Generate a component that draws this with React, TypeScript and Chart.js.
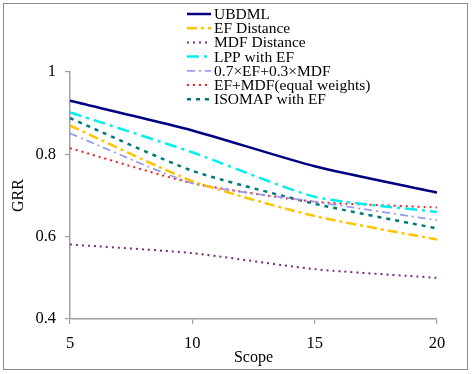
import React, { useEffect, useRef } from "react";
import { Chart, registerables } from "chart.js";

Chart.register(...registerables);

const scopes = [5, 10, 15, 20];
const seriesNames = [
  "UBDML",
  "EF Distance",
  "MDF Distance",
  "LPP with EF",
  "0.7×EF+0.3×MDF",
  "EF+MDF(equal weights)",
  "ISOMAP with EF",
];
const ubdml = [0.93, 0.858, 0.771, 0.707];
const efDistance = [0.87, 0.735, 0.65, 0.593];
const mdfDistance = [0.581, 0.56, 0.521, 0.5];
const lppEf = [0.902, 0.805, 0.697, 0.66];
const weighted = [0.851, 0.73, 0.685, 0.64];
const equalWeights = [0.815, 0.73, 0.685, 0.671];
const isomapEf = [0.888, 0.76, 0.68, 0.62];
const yTicks = [0.4, 0.6, 0.8, 1];

const seriesValues = [ubdml, efDistance, mdfDistance, lppEf, weighted, equalWeights, isomapEf];
const seriesColors = ["#000080", "#FFC400", "#7A2A7A", "#00F0F0", "#9A9AF2", "#F02020", "#007878"];
const seriesDash: number[][] = [[], [10, 4, 3, 4], [2, 4], [12, 5, 3, 5], [8, 4, 2, 4], [2, 4], [4, 5]];
const seriesWidth = [2.5, 2.5, 2, 2.5, 1.8, 2, 2.5];

const FONT = "'Liberation Serif', 'Times New Roman', serif";

const legendPlugin = {
  id: "innerLegend",
  afterDraw(chart: any) {
    const ctx = chart.ctx;
    ctx.save();
    ctx.font = `15.5px ${FONT}`;
    ctx.textBaseline = "middle";
    ctx.fillStyle = "#000";
    chart.data.datasets.forEach((ds: any, i: number) => {
      const y = 14 + i * 14.2;
      ctx.strokeStyle = ds.borderColor;
      ctx.lineWidth = ds.borderWidth;
      ctx.setLineDash(ds.borderDash || []);
      ctx.beginPath();
      ctx.moveTo(187, y);
      ctx.lineTo(211, y);
      ctx.stroke();
      ctx.setLineDash([]);
      ctx.fillText(ds.label, 214, y + 1);
    });
    ctx.restore();
  },
};

export default function App() {
  const canvasRef = useRef<HTMLCanvasElement | null>(null);

  useEffect(() => {
    document.body.style.margin = "0";
    const canvas = canvasRef.current;
    if (!canvas) return;
    const chart = new Chart(canvas, {
      type: "line",
      data: {
        datasets: seriesNames.map((name, i) => ({
          label: name,
          data: scopes.map((s, j) => ({ x: s, y: seriesValues[i][j] })),
          borderColor: seriesColors[i],
          backgroundColor: seriesColors[i],
          borderDash: seriesDash[i],
          borderWidth: seriesWidth[i],
          pointRadius: 0,
          tension: 0.2,
          fill: false,
        })),
      },
      options: {
        responsive: false,
        animation: false,
        layout: { padding: { left: 0, top: 72, right: 37, bottom: 0 } },
        plugins: { legend: { display: false }, tooltip: { enabled: false } },
        scales: {
          x: {
            type: "linear",
            min: 5,
            max: 20,
            afterFit: (scale: any) => {
              scale.height = 55;
            },
            ticks: {
              stepSize: 5,
              color: "#000",
              padding: 10,
              maxRotation: 0,
              font: { family: FONT, size: 16.5 },
            },
            grid: {
              display: true,
              drawOnChartArea: false,
              drawTicks: true,
              tickLength: 5,
              color: "#a0a0a0",
              lineWidth: 1.2,
            },
            border: { display: true, color: "#a0a0a0", width: 1.5 },
            title: {
              display: true,
              text: "Scope",
              color: "#000",
              font: { family: FONT, size: 16 },
              padding: { top: 0, bottom: 7 },
            },
          },
          y: {
            min: 0.4,
            max: 1,
            afterFit: (scale: any) => {
              scale.width = 70;
            },
            afterBuildTicks: (scale: any) => {
              scale.ticks = yTicks.map((v) => ({ value: v }));
            },
            ticks: {
              color: "#000",
              padding: 9,
              font: { family: FONT, size: 16.5 },
              callback: (v: any) => String(Number(Number(v).toFixed(1))),
            },
            grid: {
              display: true,
              drawOnChartArea: false,
              drawTicks: true,
              tickLength: 5,
              color: "#a0a0a0",
              lineWidth: 1.2,
            },
            border: { display: true, color: "#a0a0a0", width: 1.5 },
            title: {
              display: true,
              text: "GRR",
              color: "#000",
              font: { family: FONT, size: 16 },
              padding: { top: 9, bottom: 0 },
            },
          },
        },
      },
      plugins: [legendPlugin],
    });
    return () => chart.destroy();
  }, []);

  return (
    <div style={{ position: "relative", width: 474, height: 374, background: "#fff" }}>
      <canvas ref={canvasRef} width={474} height={374} style={{ display: "block" }} />
      <div
        style={{
          position: "absolute",
          left: 3,
          top: 3,
          width: 463,
          height: 365,
          border: "1px solid #8a8a8a",
          pointerEvents: "none",
        }}
      />
    </div>
  );
}
